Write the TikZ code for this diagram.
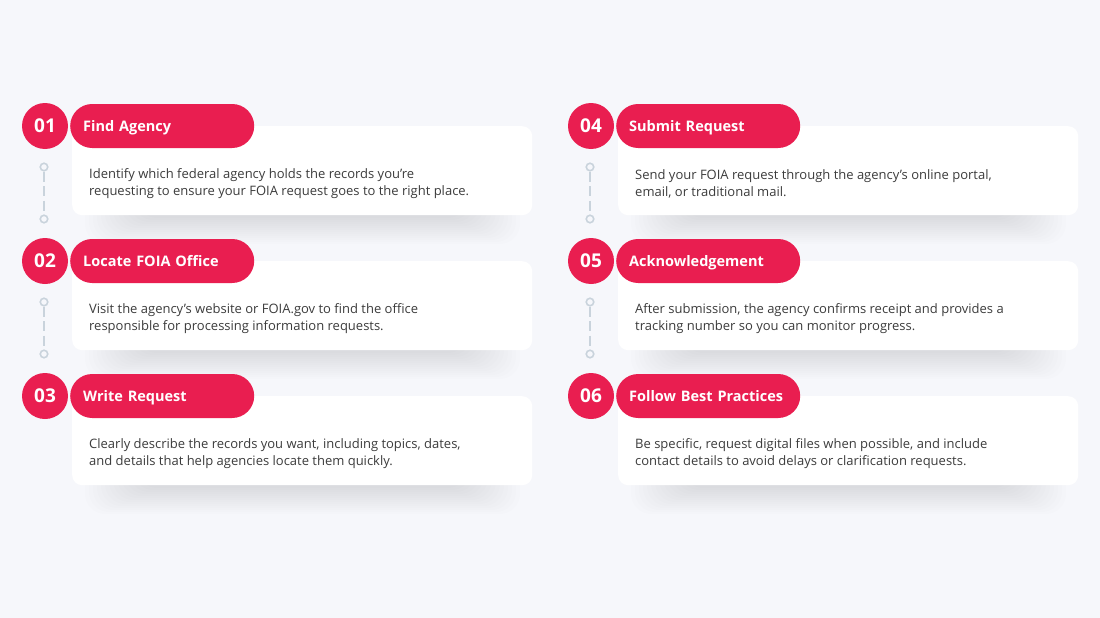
\documentclass[tikz,border=0pt]{standalone}
\usepackage{fontspec}
\setmainfont{Open Sans}
\definecolor{bg}{HTML}{F6F7FB}
\definecolor{accent}{HTML}{E91E50}
\definecolor{conn}{HTML}{C9D3DC}
\definecolor{bodyc}{HTML}{3C3C3C}
\tikzset{
 badge/.style={circle, fill=accent, minimum size=46pt, inner sep=0pt, text=white, font=\bfseries\fontsize{19}{19}\selectfont},
 pill/.style={fill=accent, rounded corners=22pt, minimum height=44pt, inner xsep=13pt, inner ysep=0pt, text width=158pt, text height=12.5pt, text depth=1.5pt, align=left, anchor=west, text=white, font=\bfseries\fontsize{14.5}{16}\selectfont},
 card/.style={fill=white, rounded corners=10pt, minimum width=460pt, minimum height=89pt, anchor=north west, inner sep=0pt},
 bodytext/.style={text=bodyc, font=\fontsize{13}{17}\selectfont, align=left, anchor=west, inner sep=0pt},
 dot/.style={circle, draw=conn, line width=1.6pt, fill=bg, minimum size=7.5pt, inner sep=0pt},
 link/.style={draw=conn, line width=1.8pt, dash pattern=on 10pt off 4.5pt},
 shade/.style={fill=black, opacity=0.008, rounded corners=20pt},
}
\newcommand\stepblock[7]{%
 \begin{scope}[shift={(#2,#3)}]
  \foreach \i in {0,...,13}{\fill[shade] (40+\i*4, 25+\i*2) rectangle (475-\i*4, 118-\i*2);}
  \node[card] (#1card) at (27,0) {};
  \node[bodytext] (#1text) at (44,57.5) {#6\\#7};
  \node[pill] (#1pill) at (25,0) {#5};
  \node[badge] (#1num) at (0,0) {#4};
 \end{scope}}
\newcommand\linkdots[3]{%
 \node[dot] (#1a) at (#2,#3+41) {};
 \node[dot] (#1b) at (#2,#3+93) {};
 \draw[link] (#1a) -- (#1b);}
\begin{document}
\begin{tikzpicture}[x=1pt,y=-1pt]
\fill[bg] (0,0) rectangle (1100,618);
\useasboundingbox (0,0) rectangle (1100,618);
\stepblock{s1}{45}{126}{01}{Find Agency}{Identify which federal agency holds the records you’re}{requesting to ensure your FOIA request goes to the right place.}
\stepblock{s2}{45}{261}{02}{Locate FOIA Office}{Visit the agency’s website or FOIA.gov to find the office}{responsible for processing information requests.}
\stepblock{s3}{45}{396}{03}{Write Request}{Clearly describe the records you want, including topics, dates,}{and details that help agencies locate them quickly.}
\stepblock{s4}{591}{126}{04}{Submit Request}{Send your FOIA request through the agency’s online portal,}{email, or traditional mail.}
\stepblock{s5}{591}{261}{05}{Acknowledgement}{After submission, the agency confirms receipt and provides a}{tracking number so you can monitor progress.}
\stepblock{s6}{591}{396}{06}{Follow Best Practices}{Be specific, request digital files when possible, and include}{contact details to avoid delays or clarification requests.}
\linkdots{l1}{44}{126}
\linkdots{l2}{44}{261}
\linkdots{l4}{590}{126}
\linkdots{l5}{590}{261}
\end{tikzpicture}
\end{document}
